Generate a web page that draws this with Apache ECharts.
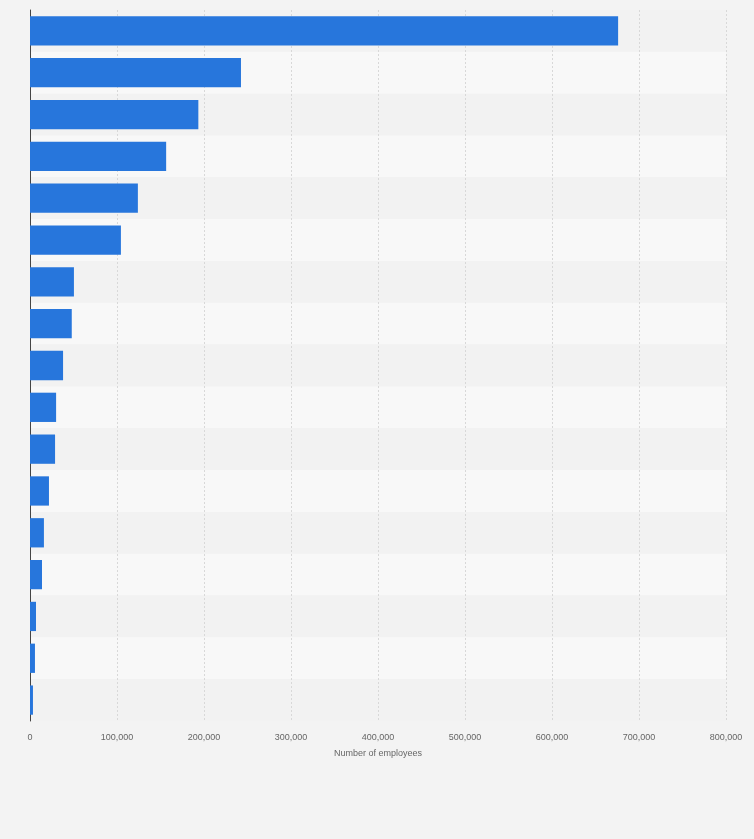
<!DOCTYPE html>
<html><head><meta charset="utf-8">
<script src="https://cdn.jsdelivr.net/npm/echarts@6/dist/echarts.min.js"></script>
<style>html,body{margin:0;padding:0;background:#f3f3f3;}#c{width:754px;height:839px;}</style>
</head><body><div id="c"></div>
<script>
const categories = ["1","2","3","4","5","6","7","8","9","10","11","12","13","14","15","16","17"];
const values = [676000,242500,193500,156500,124000,104500,50500,48000,38000,30000,28800,21800,16000,13800,6900,5700,3400];
const xTicks = [0,100000,200000,300000,400000,500000,600000,700000,800000];
const chart = echarts.init(document.getElementById('c'));
chart.setOption({
  backgroundColor:'#f3f3f3',
  animation:false,
  grid:{left:30,right:28,top:10,bottom:118,containLabel:false},
  xAxis:{type:'value',min:xTicks[0],max:xTicks[xTicks.length-1],interval:100000,
    name:'Number of employees',nameLocation:'middle',nameGap:28,
    nameTextStyle:{color:'#666',fontSize:9,fontFamily:'Liberation Sans'},
    axisLine:{show:false},axisTick:{show:false},
    axisLabel:{color:'#666',fontSize:9,fontFamily:'Liberation Sans',margin:12,
      formatter:v=>v.toLocaleString('en-US')},
    splitLine:{show:true,lineStyle:{color:'#d8d8d8',type:[2,2],width:1}}},
  yAxis:{type:'category',data:categories,inverse:true,
    axisLine:{show:true,lineStyle:{color:'#444',width:1}},axisTick:{show:false},
    axisLabel:{show:false},
    splitArea:{show:true,areaStyle:{color:['#f2f2f2','#f8f8f8']}}},
  series:[{type:'bar',data:values,barCategoryGap:'30%',
    itemStyle:{color:'#2776dc'}}]
});
</script></body></html>
